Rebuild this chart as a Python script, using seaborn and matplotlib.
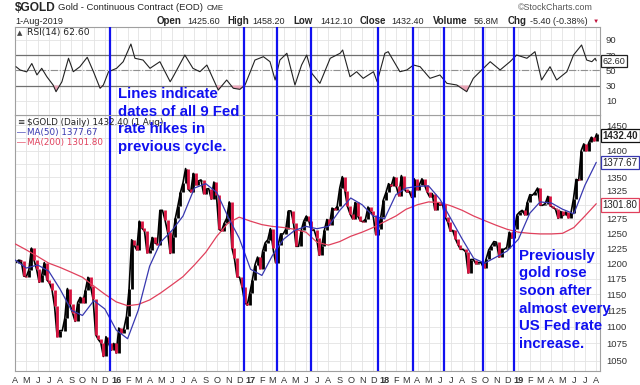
import numpy as np
import pandas as pd
import matplotlib
matplotlib.use("Agg")
import matplotlib.pyplot as plt
from matplotlib.ticker import FixedLocator, NullLocator, FixedFormatter
import seaborn as sns

# ---------------- data ----------------
week_start, week_end = "2015-04-03", "2019-08-02"
closes_2015 = [1201, 1205, 1204, 1179, 1178, 1189, 1225, 1205, 1190, 1169, 1180, 1201, 1173,
               1168, 1157, 1131, 1085, 1094, 1094, 1113, 1159, 1134, 1121, 1108, 1137, 1145,
               1137, 1156, 1177, 1163, 1142, 1088, 1081, 1076, 1056, 1085, 1076, 1065, 1075]
closes_2016 = [1061, 1098, 1090, 1097, 1116, 1158, 1239, 1230, 1222, 1271, 1259, 1254, 1217,
               1222, 1243, 1234, 1231, 1290, 1290, 1273, 1252, 1216, 1244, 1276, 1298, 1322,
               1340, 1366, 1328, 1323, 1357, 1336, 1343, 1345, 1320, 1328, 1329, 1310, 1341,
               1317, 1257, 1254, 1267, 1276, 1305, 1226, 1208, 1178, 1177, 1161, 1137, 1133, 1152]
closes_2017 = [1173, 1197, 1210, 1191, 1220, 1234, 1239, 1258, 1226, 1201, 1230, 1249, 1249,
               1257, 1289, 1289, 1268, 1228, 1228, 1255, 1271, 1280, 1271, 1255, 1256, 1242,
               1213, 1228, 1255, 1274, 1264, 1294, 1291, 1297, 1330, 1351, 1325, 1297, 1284,
               1275, 1304, 1280, 1272, 1270, 1274, 1296, 1288, 1281, 1248, 1257, 1279, 1309]
closes_2018 = [1322, 1338, 1333, 1350, 1333, 1316, 1353, 1329, 1323, 1324, 1313, 1347, 1327,
               1336, 1347, 1336, 1323, 1314, 1320, 1291, 1303, 1299, 1302, 1278, 1270, 1254,
               1255, 1241, 1231, 1223, 1223, 1219, 1184, 1206, 1206, 1199, 1201, 1201, 1192,
               1207, 1222, 1229, 1236, 1235, 1210, 1223, 1223, 1226, 1252, 1242, 1258, 1282]
closes_2019 = [1287, 1290, 1282, 1304, 1318, 1317, 1322, 1330, 1299, 1299, 1302, 1315, 1298,
               1295, 1292, 1276, 1288, 1281, 1287, 1277, 1285, 1311, 1346, 1344, 1400, 1413,
               1400, 1416, 1426, 1419, 1432.4]
closes = closes_2015 + closes_2016 + closes_2017 + closes_2018 + closes_2019

ma_start, ma_end = "2015-04-01", "2019-08-01"
ma50 = [1205, 1192, 1197, 1187, 1158, 1125, 1117, 1140, 1127,
        1095, 1082, 1125, 1195, 1235, 1255, 1280, 1330, 1338, 1322, 1278, 1242,
        1190, 1180, 1212, 1240, 1255, 1262, 1258, 1262, 1290, 1312, 1300, 1280,
        1275, 1318, 1330, 1333, 1334, 1310, 1275, 1240, 1208, 1200, 1210, 1220,
        1240, 1285, 1305, 1303, 1292, 1284, 1335, 1377.67]
ma200 = [1232, 1222, 1211, 1200, 1193, 1185, 1177, 1163, 1150,
         1138, 1132, 1134, 1141, 1152, 1165, 1178, 1197, 1218, 1245, 1268, 1278,
         1271, 1265, 1262, 1260, 1257, 1252, 1235, 1230, 1236, 1245, 1252, 1260,
         1270, 1280, 1292, 1300, 1305, 1304, 1298, 1290, 1280, 1272, 1264, 1257,
         1252, 1250, 1249, 1249, 1250, 1260, 1280, 1301.8]

rsi_dates = ["2015-04-03", "2015-04-14", "2015-05-02", "2015-05-16", "2015-05-30", "2015-06-12",
             "2015-06-26", "2015-07-13", "2015-07-21", "2015-08-06", "2015-08-24", "2015-09-06",
             "2015-09-24", "2015-10-14", "2015-10-31", "2015-11-18", "2015-11-27", "2015-12-11",
             "2016-01-02", "2016-01-20", "2016-02-10", "2016-02-21", "2016-03-14", "2016-04-02",
             "2016-04-29", "2016-05-27", "2016-06-04", "2016-07-06", "2016-07-28", "2016-08-16",
             "2016-09-04", "2016-10-05", "2016-10-28", "2016-11-15", "2016-12-03", "2016-12-17",
             "2017-01-13", "2017-02-05", "2017-02-23", "2017-03-09", "2017-03-22", "2017-04-10",
             "2017-05-02", "2017-05-20", "2017-06-03", "2017-06-17", "2017-07-09", "2017-08-06",
             "2017-09-02", "2017-09-09", "2017-09-29", "2017-10-17", "2017-11-04", "2017-12-02",
             "2017-12-12", "2018-01-02", "2018-01-11", "2018-02-12", "2018-03-03", "2018-03-21",
             "2018-04-08", "2018-05-05", "2018-06-01", "2018-06-20", "2018-07-17", "2018-08-13",
             "2018-08-31", "2018-09-18", "2018-10-16", "2018-11-12", "2018-12-09", "2018-12-27",
             "2019-01-24", "2019-02-15", "2019-03-05", "2019-03-28", "2019-04-15", "2019-05-13",
             "2019-05-31", "2019-06-22", "2019-07-06", "2019-07-20", "2019-07-29", "2019-08-01"]
rsi_vals = [54.8, 50.5, 48, 59, 44, 52.7,
            41.6, 30.7, 21.9, 35, 65.9, 48.2,
            54.8, 67.2, 48.2, 26.4, 30.7, 48.2,
            52.7, 61.4, 84.7, 65.9, 63.6, 52.7,
            61.4, 35, 41.6, 70.2, 52.7, 48.2,
            57, 24, 37.3, 26.4, 25, 30.7,
            63.6, 68, 61.4, 37.3, 63.6, 72.5,
            30.7, 57, 70.2, 46, 32.9, 65.9,
            72.5, 76.8, 41.6, 48.2, 39.5, 48.2,
            35, 72.5, 74.6, 48.2, 50.5, 57,
            54.8, 39.5, 43.9, 32.9, 30.7, 21.9,
            39.5, 48.2, 61.4, 50.5, 61.4, 70.2,
            65.9, 74.6, 37.3, 54.8, 37.3, 48.2,
            70.2, 83.4, 63.6, 61.4, 65.9, 62.6]

fed_dates = ["2015-12-16", "2016-12-14", "2017-03-15", "2017-06-14", "2017-12-13",
             "2018-03-21", "2018-06-13", "2018-09-26", "2018-12-19"]

price_grid = list(range(1050, 1451, 25))
price_hidden = [1300, 1375, 1425]
rsi_ticks = [10, 30, 50, 70, 90]
month_letters = "JFMAMJJASOND"

# ---------------- style ----------------
sns.set_style("white")
plt.rcParams["font.family"] = ["Liberation Sans", "DejaVu Sans"]

W, H = 640, 385
fig = plt.figure(figsize=(6.4, 3.85), dpi=100)


def rect(x0, y0, x1, y1):
    return [x0 / W, 1 - y1 / H, (x1 - x0) / W, (y1 - y0) / H]


ax_p = fig.add_axes(rect(15.3, 115, 600.3, 370.5))
ax_r = fig.add_axes(rect(15.3, 26.7, 600.3, 115), sharex=ax_p)

RED = "#d81440"
MA_BLUE = "#3838b0"
MA_RED = "#e0405c"
FED = "#1010f0"
GRID = "#e3e3e3"

# ---------------- price panel ----------------
wdates = pd.date_range(week_start, week_end, freq="W-FRI")
c = np.array(closes, dtype=float)
prev = np.r_[c[0], c[:-1]]
up = c >= prev
sns.lineplot(x=wdates, y=c, ax=ax_p, color="black", lw=1.2, zorder=2)
ax_p.vlines(wdates[up], prev[up], c[up], color="black", lw=2.0, zorder=2)
ax_p.vlines(wdates[~up], c[~up], prev[~up], color=RED, lw=2.0, zorder=2)

mdates_ = pd.date_range(ma_start, ma_end, freq="MS")
sns.lineplot(x=mdates_, y=ma200, ax=ax_p, color=MA_RED, lw=0.9, zorder=3)
sns.lineplot(x=mdates_, y=ma50, ax=ax_p, color=MA_BLUE, lw=0.9, zorder=3)

ax_p.set_yscale("log")
ax_p.set_ylim(1035.9, 1470)
ax_p.yaxis.set_major_locator(FixedLocator(price_grid))
ax_p.yaxis.set_minor_locator(NullLocator())
ax_p.yaxis.set_major_formatter(FixedFormatter(
    ["" if v in price_hidden else str(v) for v in price_grid]))
ax_p.yaxis.tick_right()

# ---------------- RSI panel ----------------
rd = pd.to_datetime(rsi_dates)
rv = np.array(rsi_vals)
ax_r.fill_between(rd, rv, 30, where=rv < 30, interpolate=True, color="#e9a3b5", lw=0, zorder=2)
sns.lineplot(x=rd, y=rv, ax=ax_r, color="#222222", lw=0.8, zorder=3)
ax_r.set_ylim(-8.8, 107.5)
ax_r.yaxis.set_major_locator(FixedLocator(rsi_ticks))
ax_r.yaxis.set_minor_locator(NullLocator())
ax_r.yaxis.tick_right()
for v in (70, 30):
    ax_r.axhline(v, color="#707070", lw=0.9, zorder=1)
ax_r.axhline(50, color="#909090", lw=0.8, ls="-.", zorder=1)

# ---------------- shared x axis ----------------
months = pd.date_range("2015-04-01", "2019-08-01", freq="MS")
labels = [f"{m.year % 100:02d}" if m.month == 1 else month_letters[m.month - 1] for m in months]
ax_p.set_xlim(pd.Timestamp("2015-04-01"), pd.Timestamp("2019-08-12"))
ax_p.xaxis.set_major_locator(FixedLocator(matplotlib.dates.date2num(months)))
ax_p.xaxis.set_minor_locator(NullLocator())
ax_p.set_xticklabels(labels)
for t, m in zip(ax_p.get_xticklabels(), months):
    if m.month == 1:
        t.set_fontweight("bold")
ax_r.tick_params(axis="x", labelbottom=False, length=0)

for ax in (ax_p, ax_r):
    ax.set_xlabel("")
    ax.set_ylabel("")
    ax.grid(True, color=GRID, lw=0.6, zorder=0)
    ax.set_axisbelow(True)
    for s in ax.spines.values():
        s.set_color("#a0a0a0")
        s.set_linewidth(0.8)
    ax.tick_params(axis="y", length=0, pad=4, labelsize=6.8, colors="#333333")
    for d in fed_dates:
        ax.axvline(pd.Timestamp(d), color=FED, lw=1.6, zorder=5)
ax_p.tick_params(axis="x", length=2, pad=2, labelsize=6.6, colors="#333333")


# ---------------- texts ----------------
def T(x, y, s, **kw):
    kw.setdefault("va", "center")
    kw.setdefault("ha", "left")
    return fig.text(x / W, 1 - y / H, s, **kw)


T(15, 8, "$GOLD", fontsize=8.6, fontweight="bold")
T(58, 8, "Gold - Continuous Contract (EOD)", fontsize=6.8)
T(207, 8.5, "CME", fontsize=5.6)
T(518, 7.7, "\u00a9StockCharts.com", fontsize=6.4, color="#555555")
T(15, 21, "1-Aug-2019", fontsize=6.6)
hdr = [(156.7, "Open", True), (187.3, "1425.60", False), (227.7, "High", True),
       (252.3, "1458.20", False), (293.3, "Low", True), (320, "1412.10", False),
       (359.3, "Close", True), (391.7, "1432.40", False), (432.7, "Volume", True),
       (474, "56.8M", False), (507.3, "Chg", True), (530, "-5.40 (-0.38%)", False)]
for x, s, b in hdr:
    T(x, 21, s, fontsize=7 if b else 6.5, fontweight="bold" if b else "normal")
T(593, 21.5, "\u25bc", fontsize=4.5, color="#c0103a")

T(17, 33, "\u25b2", fontsize=5, color="#444444", family="DejaVu Sans")
T(27, 33, "RSI(14) 62.60", fontsize=6.6, family="DejaVu Sans", color="#222222")
T(17, 122.3, "\u2261", fontsize=6.3, color="#222222", family="DejaVu Sans")
T(27, 122.3, "$GOLD (Daily) 1432.40 (1 Aug)", fontsize=6.3, family="DejaVu Sans", color="#222222")
T(17, 132.3, "\u2014", fontsize=6.3, color=MA_BLUE)
T(27, 132.3, "MA(50) 1377.67", fontsize=6.3, family="DejaVu Sans", color=MA_BLUE)
T(17, 142.3, "\u2014", fontsize=6.3, color=MA_RED)
T(27, 142.3, "MA(200) 1301.80", fontsize=6.3, family="DejaVu Sans", color=MA_RED)

# right-hand value tags
tag = dict(boxstyle="square,pad=0.18", fc="white", lw=0.9)
T(602.5, 61, "62.60", fontsize=6.5, bbox=dict(tag, ec="#222222"), zorder=6)
T(602.5, 135.7, "1432.40", fontsize=7, fontweight="bold", bbox=dict(tag, ec="#111111"), zorder=6)
T(602.5, 162.7, "1377.67", fontsize=7, color="#222222", bbox=dict(tag, ec=MA_BLUE), zorder=6)
T(602.5, 205, "1301.80", fontsize=7, color="#222222", bbox=dict(tag, ec=MA_RED), zorder=6)

ann1 = ["Lines indicate", "dates of all 9 Fed", "rate hikes in", "previous cycle."]
for i, s in enumerate(ann1):
    T(118.3, 94 + i * 17.7, s, fontsize=10.8, fontweight="bold", color=FED)
ann2 = ["Previously", "gold rose", "soon after", "almost every", "US Fed rate", "increase."]
for i, s in enumerate(ann2):
    T(519, 256 + i * 17.5, s, fontsize=10.8, fontweight="bold", color=FED)

fig.savefig("out.png", dpi=100)
